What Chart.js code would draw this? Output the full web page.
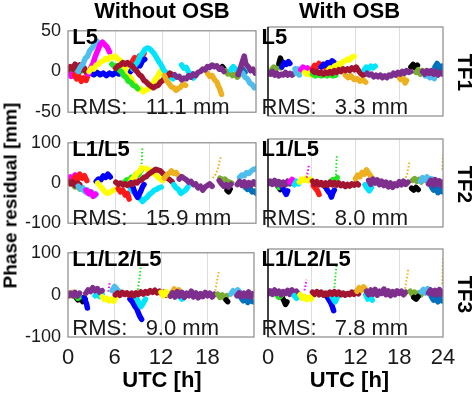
<!DOCTYPE html>
<html><head><meta charset="utf-8">
<script src="https://cdn.jsdelivr.net/npm/chart.js"></script>
<style>
html,body{margin:0;padding:0;background:#fff;}
#wrap{position:relative;width:474px;height:397px;overflow:hidden;font-family:"Liberation Sans",Arial,Helvetica,sans-serif;}
canvas{position:absolute;}
.t{position:absolute;white-space:pre;line-height:1;color:#000;}
</style></head>
<body><div id="wrap"></div>
<script>
// ---------- tick values / labels ----------
const xTickValues = [0, 6, 12, 18, 24];
const xTickLabelsLeft = ['0', '6', '12', '18', ''];
const xTickLabelsRight = ['0', '6', '12', '18', '24'];
const yTicksTF1 = [-50, 0, 50];
const yTicksTF23 = [-100, 0, 100];
const colTitles = ['Without OSB', 'With OSB'];
const rowTitles = ['TF1', 'TF2', 'TF3'];
const freqLabels = ['L5', 'L1/L5', 'L1/L2/L5'];
const rmsLeft = ['11.1', '15.9', '9.0'];
const rmsRight = ['3.3', '8.0', '7.8'];

// ---------- TF1, without OSB ([UTC h, residual mm]) ----------
const p1L_maroonA = [[0,2],[0.3,6],[0.6,3],[0.9,9],[1.2,5],[1.5,8],[1.8,2],[2.1,4],[2.3,-1]];
const p1L_magentaA = [[0.1,-2],[0.4,-6],[0.7,-3],[1.0,-7],[1.3,-4]];
const p1L_red = [[0.8,-4],[1.1,-9],[1.4,-6],[1.7,-12],[2.0,-8],[2.3,-11],[2.5,-6]];
const p1L_greenA = [[0.4,2],[0.7,6],[1.0,1],[1.3,5],[1.6,0]];
const p1L_lightblueA = [[1.3,0],[1.6,6],[1.9,9],[2.2,16],[2.5,19],[2.8,26],[3.1,29],[3.4,34],[3.7,37],[4.0,35]];
const p1L_magentaB = [[2.6,-3],[2.9,4],[3.2,10],[3.5,19],[3.8,26],[4.1,33],[4.4,36],[4.7,33],[5.0,30],[5.3,24]];
const p1L_blueB = [[2.9,-2],[3.3,-4],[3.7,-1],[4.1,-4],[4.5,-2],[4.9,-5],[5.3,-2],[5.7,-4],[6.1,-1],[6.5,-3]];
const p1L_yellow = [[2.7,0],[3.0,4],[3.3,3],[3.6,8],[3.9,9],[4.2,12],[4.5,13],[4.8,16],[5.1,15],[5.4,18],[5.7,17],[6.0,19],[6.3,16],[6.6,14],[6.9,10],[7.2,6],[7.5,1],[7.8,-5],[8.1,-9],[8.4,-15],[8.7,-18],[9.0,-22],[9.3,-21],[9.6,-25],[9.9,-23],[10.2,-22],[10.5,-18],[10.8,-16],[11.1,-10],[11.4,-7],[11.7,-1],[12.0,3]];
const p1L_greenB = [[5.6,9],[5.9,6],[6.2,7],[6.5,2],[6.8,0],[7.1,-5],[7.4,-7],[7.7,-12],[8.0,-13],[8.3,-17],[8.6,-18],[8.9,-21]];
const p1L_redB = [[8.2,12],[8.5,17],[8.8,14],[9.1,19],[9.4,18],[9.7,22]];
const p1L_blueC = [[8.0,0],[8.3,4],[8.6,3],[8.9,9],[9.2,7],[9.5,13],[9.8,15]];
const p1L_cyan = [[8.3,3],[8.6,8],[8.9,12],[9.2,19],[9.5,22],[9.8,27],[10.1,29],[10.4,28],[10.7,25],[11.0,22],[11.3,17],[11.6,12],[11.9,8],[12.2,2],[12.5,-1],[12.8,-5],[13.1,-7],[13.4,-9]];
const p1L_maroonB = [[6.1,4],[6.4,7],[6.7,8],[7.0,11],[7.3,9],[7.6,11],[7.9,8],[8.2,7],[8.5,3],[8.8,0],[9.1,-4],[9.4,-6],[9.7,-11],[10.0,-13],[10.3,-16],[10.6,-18],[10.9,-20],[11.2,-18],[11.5,-17],[11.8,-13],[12.1,-11],[12.4,-7],[12.7,-6],[13.0,-2],[13.3,-4]];
const p1L_orangeA = [[12.3,-5],[12.6,-11],[12.9,-15],[13.2,-19],[13.5,-20],[13.8,-23],[14.1,-21],[14.4,-19],[14.7,-15],[15.0,-17]];
const p1L_cyanB = [[14.5,8],[14.8,4],[15.1,5],[15.4,-1],[15.7,-4],[16.0,-8]];
const p1L_purpleA = [[13.6,-4],[13.9,-7],[14.2,-6],[14.5,-10],[14.8,-8],[15.1,-9],[15.4,-5],[15.7,-7],[16.0,-3],[16.3,-5],[16.6,-1],[16.9,0],[17.2,3],[17.5,2],[17.8,6],[18.1,5],[18.4,8],[18.7,6],[19.0,7],[19.3,3],[19.6,4],[19.9,0]];
const p1L_orangeB = [[17.8,-2],[18.1,-6],[18.4,-5],[18.7,-10],[19.0,-13],[19.2,-18],[19.4,-22],[19.6,-28]];
const p1L_black = [[19.4,3],[19.7,6],[20.0,2]];
const p1L_olive = [[20.1,1],[20.4,-3],[20.7,-1],[21.0,-5],[21.3,-3],[21.6,-7],[21.9,-4]];
const p1L_cyanC = [[20.8,2],[21.1,6],[21.4,3]];
const p1L_steel = [[22.0,-2],[22.3,3],[22.6,-1]];
const p1L_purpleB = [[21.7,-4],[22.0,4],[22.3,13],[22.5,19],[22.7,9],[23.0,6],[23.3,1],[23.6,3],[23.9,-2],[24.0,0]];
const p1L_lightblueB = [[22.3,-2],[22.6,-7],[22.9,-9],[23.2,-14],[23.5,-16],[23.8,-20],[24.0,-19]];

// ---------- TF1, with OSB ----------
const p1R_purpleA = [[0,-1],[0.3,-3],[0.6,0],[0.9,-4],[1.2,-2],[1.5,-5],[1.8,-3],[2.1,-4],[2.4,-1],[2.7,-4],[3.0,-2],[3.3,-4],[3.6,-2]];
const p1R_olive = [[0.5,2],[0.8,5],[1.1,3],[1.4,6],[1.7,4]];
const p1R_black = [[1.5,9],[1.7,15],[1.9,10]];
const p1R_blue = [[1.9,5],[2.2,10],[2.5,8],[2.8,11],[3.0,9]];
const p1R_lightblueA = [[3.7,3],[3.9,-2],[4.1,3],[4.3,-4]];
const p1R_magenta = [[4.5,2],[4.8,5],[5.1,1],[5.4,4]];
const p1R_yellowA = [[5.0,-1],[5.3,-3],[5.6,-2],[5.9,-4],[6.1,-3]];
const p1R_green = [[6.1,-3],[6.5,-5],[6.9,-3],[7.3,-5],[7.7,-3],[8.1,-5],[8.5,-3],[8.9,-5],[9.3,-4]];
const p1R_red = [[6.1,3],[6.4,7],[6.7,5],[7.0,9],[7.3,6],[7.6,8],[7.9,4]];
const p1R_blueB = [[7.3,5],[7.6,8],[7.9,7],[8.2,10],[8.5,9],[8.8,12],[9.1,10]];
const p1R_yellowB = [[8.2,1],[8.5,4],[8.8,3],[9.1,6],[9.4,7],[9.7,9],[10.0,8],[10.3,11],[10.6,12],[10.9,14],[11.2,13],[11.5,16],[11.8,17]];
const p1R_orangeA = [[10.6,-4],[11.0,-7],[11.4,-5],[11.8,-9],[12.2,-8],[12.6,-11],[13.0,-9],[13.4,-12]];
const p1R_maroon = [[6.1,1],[6.4,-1],[6.7,0],[7.0,-2],[7.3,-1],[7.6,-3],[7.9,-1],[8.2,-2],[8.5,0],[8.8,-2],[9.1,1],[9.4,-1],[9.7,2],[10.0,0],[10.3,3],[10.6,1],[10.9,3],[11.2,1],[11.5,4],[11.8,2],[12.1,5],[12.4,1],[12.7,-2],[13.0,-4],[13.3,-3]];
const p1R_cyan = [[13.2,2],[13.5,5],[13.8,3],[14.1,6],[14.4,4],[14.7,6]];
const p1R_purpleB = [[13.6,-2],[13.9,-4],[14.2,-3],[14.5,-6],[14.8,-4],[15.1,-6],[15.4,-4],[15.7,-7],[16.0,-5],[16.3,-7],[16.6,-4],[16.9,-5],[17.2,-2],[17.5,-4],[17.8,-1],[18.1,-3],[18.4,0],[18.7,-2],[19.0,1],[19.3,-1],[19.6,0]];
const p1R_orangeB = [[17.9,-5],[18.2,-9],[18.5,-7],[18.8,-13],[19.0,-10]];
const p1R_blackB = [[19.6,5],[19.9,8],[20.2,4],[20.5,7]];
const p1R_oliveB = [[20.3,-1],[20.6,2],[20.9,-3],[21.2,1]];
const p1R_lightblueB = [[21.3,-1],[21.6,-5],[21.9,-2],[22.2,-7],[22.5,-4],[22.8,-8]];
const p1R_purpleC = [[21.2,0],[21.5,-3],[21.8,1],[22.1,-2],[22.4,1],[22.7,-3],[23.0,0],[23.3,-4],[23.6,-1],[23.9,-3],[24.0,-2]];
const p1R_steel = [[22.9,5],[23.2,9],[23.5,3],[23.8,6],[24.0,1]];

// ---------- TF2, without OSB ----------
const p2L_magentaA = [[0,8],[0.3,15],[0.6,10],[0.9,20],[1.2,14]];
const p2L_red = [[0.6,5],[0.9,15],[1.2,8],[1.5,22],[1.8,12],[2.1,18],[2.4,6]];
const p2L_maroonA = [[0,4],[0.3,-2],[0.6,3],[0.9,-6],[1.2,0],[1.5,-4]];
const p2L_olive = [[0.6,-3],[0.9,-10],[1.2,-6],[1.5,-15],[1.8,-12],[2.0,-18]];
const p2L_lightblueA = [[1.3,-8],[1.6,-15],[1.9,-12],[2.2,-22],[2.5,-18],[2.8,-28],[3.1,-24],[3.4,-32],[3.6,-28]];
const p2L_magentaB = [[2.3,-18],[2.6,-26],[2.9,-22],[3.2,-33],[3.5,-28]];
const p2L_blueA = [[3.6,4],[3.9,10],[4.2,8],[4.5,18],[4.8,14],[5.1,22],[5.4,15]];
const p2L_yellowA = [[3.8,0],[4.1,-8],[4.4,-14],[4.7,-22],[5.0,-26],[5.3,-24],[5.6,-20],[5.9,-17],[6.2,-15]];
const p2L_redB = [[6.4,-14],[6.7,-22],[7.0,-18],[7.3,-30],[7.6,-26],[7.8,-40]];
const p2L_greenA = [[7.2,2],[7.5,8],[7.8,5],[8.1,14],[8.4,12],[8.7,22],[9.0,20],[9.3,30]];
const p2L_greenSpike = [[9.3,30],[9.4,50],[9.45,70],[9.5,90]];
const p2L_blueB = [[8.0,0],[8.3,-10],[8.5,-22],[8.7,-30],[8.9,-36],[9.1,-28],[9.3,-20],[9.5,-10],[9.7,-4]];
const p2L_yellowB = [[8.0,4],[8.3,12],[8.6,18],[8.9,26],[9.2,30],[9.4,38]];
const p2L_cyan = [[8.0,-15],[8.3,-22],[8.6,-26],[8.9,-33],[9.2,-38],[9.5,-46],[9.8,-40],[10.1,-36],[10.4,-28],[10.7,-24],[11.0,-18],[11.3,-16],[11.6,-12],[11.9,-10]];
const p2L_yellowC = [[10.0,36],[10.3,30],[10.6,32],[10.9,24],[11.2,20],[11.5,14],[11.8,10],[12.1,6]];
const p2L_maroonB = [[6.1,2],[6.4,-3],[6.7,0],[7.0,-5],[7.3,-2],[7.6,-6],[7.9,-1],[8.2,-4],[8.5,2],[8.8,0],[9.1,6],[9.4,8],[9.7,14],[10.0,16],[10.3,22],[10.6,26],[10.9,30],[11.2,34],[11.5,32],[11.8,30],[12.1,24],[12.4,18],[12.7,12],[13.0,8],[13.3,3]];
const p2L_orangeA = [[12.3,12],[12.6,20],[12.9,24],[13.2,30],[13.5,24],[13.8,26],[14.1,18],[14.4,14]];
const p2L_cyanB = [[13.5,-4],[13.8,-12],[14.1,-16],[14.4,-26],[14.7,-22],[15.0,-18],[15.3,-10]];
const p2L_purpleA = [[14.2,10],[14.5,16],[14.8,12],[15.1,8],[15.4,2],[15.7,4],[16.0,-4],[16.3,-2],[16.6,-12],[16.9,-8],[17.2,-18],[17.5,-10],[17.8,-6],[18.1,-2],[18.4,-8]];
const p2L_orangeB = [[18.5,12],[18.8,20],[19.0,28],[19.2,40],[19.35,55],[19.5,64]];
const p2L_purpleB = [[19.3,6],[19.6,-2],[19.9,-8],[20.2,-4],[20.5,-10],[20.8,-3]];
const p2L_olive2 = [[19.4,12],[19.7,8],[20.0,10],[20.3,4],[20.6,2],[20.9,0]];
const p2L_black = [[20.3,-18],[20.5,-22],[20.7,-15]];
const p2L_lightblueB = [[21.9,14],[22.2,20],[22.5,18],[22.8,26],[23.1,24],[23.4,30],[23.7,34],[24.0,36]];
const p2L_steel = [[22.6,-10],[22.9,-16],[23.2,-12],[23.5,-22],[23.8,-20],[24.0,-25]];
const p2L_purpleC = [[21.6,-4],[21.9,4],[22.2,-6],[22.5,3],[22.8,-9],[23.1,1],[23.4,-5],[23.7,3],[24.0,-4]];

// ---------- TF2, with OSB ----------
const p2R_purpleA = [[0,-2],[0.3,4],[0.6,-3],[0.9,6],[1.2,-4],[1.5,3],[1.8,-5],[2.1,2],[2.4,-4],[2.7,4],[3.0,-2],[3.3,3]];
const p2R_black = [[1.4,-8],[1.7,-15],[2.0,-10]];
const p2R_green = [[1.2,-4],[1.5,-10],[1.8,-6]];
const p2R_blueA = [[1.9,-6],[2.1,-14],[2.3,-20],[2.5,-26],[2.7,-18]];
const p2R_magentaA = [[3.0,2],[3.3,8],[3.6,4]];
const p2R_cyanA = [[3.6,-4],[3.9,4],[4.2,-2]];
const p2R_yellow = [[4.3,2],[4.6,9],[4.9,6],[5.2,11],[5.5,5],[5.8,9],[6.1,3]];
const p2R_magentaSpike = [[5.3,12],[5.45,25],[5.6,40]];
const p2R_red = [[6.2,-6],[6.5,-12],[6.8,-18],[7.0,-26]];
const p2R_blueB = [[7.9,-10],[8.2,-18],[8.5,-24],[8.7,-32],[8.9,-22],[9.1,-16]];
const p2R_greenB = [[8.6,2],[8.9,8],[9.2,6],[9.5,12]];
const p2R_greenSpike = [[9.3,10],[9.35,30],[9.4,48],[9.45,65]];
const p2R_maroon = [[6.1,4],[6.4,-3],[6.7,3],[7.0,-4],[7.3,1],[7.6,-6],[7.9,0],[8.2,-5],[8.5,2],[8.8,-4],[9.1,1],[9.4,-5],[9.7,0],[10.0,-6],[10.3,-2],[10.6,-8],[10.9,-3],[11.2,-7],[11.5,-2],[11.8,-5],[12.1,0],[12.4,-4]];
const p2R_orange = [[12.0,10],[12.3,18],[12.6,14],[12.9,24],[13.2,20],[13.5,30],[13.8,22],[14.1,16]];
const p2R_cyanB = [[13.3,-4],[13.6,-12],[13.9,-18],[14.2,-10]];
const p2R_purpleB = [[13.8,6],[14.1,-3],[14.4,9],[14.7,0],[15.0,7],[15.3,-4],[15.6,4],[15.9,-6],[16.2,2],[16.5,-9],[16.8,0],[17.1,-10],[17.4,-2],[17.7,-6],[18.0,3],[18.3,-4],[18.6,4],[18.9,-3],[19.2,2]];
const p2R_orangeB = [[18.9,12],[19.1,22],[19.25,35],[19.4,48]];
const p2R_blackB = [[19.7,-12],[20.0,-16],[20.3,-10],[20.6,-15]];
const p2R_olive = [[19.8,6],[20.1,10],[20.4,4],[20.7,8],[21.0,2]];
const p2R_lightblueB = [[20.9,4],[21.2,12],[21.5,6],[21.8,14],[22.1,2],[22.4,10]];
const p2R_steel = [[22.4,-8],[22.7,-16],[23.0,-10],[23.3,-22],[23.6,-14],[23.9,-20]];
const p2R_purpleC = [[22.0,-2],[22.3,6],[22.6,-5],[22.9,8],[23.2,-3],[23.5,5],[23.8,-6],[24.0,2]];
const p2R_orangeEdge = [[23.9,30],[24.0,65]];

// ---------- TF3, without OSB ----------
const p3L_orange0 = [[0,4],[0.3,-2],[0.6,6]];
const p3L_purpleA = [[0,-3],[0.3,4],[0.6,-2],[0.9,6],[1.2,-3],[1.5,4]];
const p3L_black = [[1.0,-5],[1.3,-12],[1.6,-9],[1.9,-16],[2.2,-10]];
const p3L_green = [[1.0,-2],[1.3,-8],[1.6,-4]];
const p3L_blueA = [[2.1,-6],[2.25,-14],[2.4,-22],[2.5,-31]];
const p3L_purpleB = [[2.3,4],[2.6,12],[2.9,8],[3.2,17],[3.5,10],[3.8,15],[4.1,6],[4.4,10]];
const p3L_cyanA = [[3.5,-2],[3.8,4],[4.1,-4],[4.4,2]];
const p3L_yellow = [[4.4,-4],[4.7,-11],[5.0,-8],[5.3,-14],[5.6,-10],[5.9,-15],[6.1,-8]];
const p3L_magentaSpike = [[5.2,8],[5.3,20],[5.4,32]];
const p3L_lightblue = [[5.7,10],[6.0,20],[6.3,14],[6.6,8]];
const p3L_maroon = [[6.1,0],[6.4,5],[6.7,-1],[7.0,6],[7.3,1],[7.6,5],[7.9,-1],[8.2,4],[8.5,-2],[8.8,5],[9.1,1],[9.4,7],[9.7,2],[10.0,8],[10.3,4],[10.6,10],[10.9,6],[11.2,11],[11.5,5],[11.8,9],[12.1,3],[12.4,7],[12.7,-1]];
const p3L_blueB = [[8.0,-10],[8.3,-16],[8.6,-26],[8.9,-34],[9.1,-44],[9.3,-52],[9.5,-58]];
const p3L_cyanB = [[8.8,-6],[9.1,-18],[9.4,-28],[9.7,-20],[10.0,-10]];
const p3L_greenSpike = [[9.0,12],[9.15,30],[9.3,50],[9.4,72]];
const p3L_yellowB = [[12.0,6],[12.3,-2],[12.6,8],[12.9,0],[13.2,4]];
const p3L_orange = [[13.4,6],[13.7,14],[14.0,8],[14.3,12]];
const p3L_purpleC = [[13.2,-3],[13.5,5],[13.8,-5],[14.1,8],[14.4,-3],[14.7,6],[15.0,-6],[15.3,4],[15.6,-2],[15.9,9],[16.2,-5],[16.5,5],[16.8,-7],[17.1,3],[17.4,-4],[17.7,6],[18.0,-2],[18.3,4],[18.6,-5],[18.9,2]];
const p3L_cyanC = [[14.4,-4],[14.7,-10],[15.0,-6]];
const p3L_orangeSpike = [[19.0,10],[19.15,25],[19.3,40],[19.45,55]];
const p3L_olive = [[19.3,2],[19.6,-6],[19.9,0],[20.2,-8],[20.5,-2]];
const p3L_black2 = [[20.4,-12],[20.6,-16]];
const p3L_lightblueB = [[21.0,2],[21.3,10],[21.6,4],[21.9,12],[22.2,6]];
const p3L_steel = [[22.3,-6],[22.6,-14],[22.9,-8],[23.2,-18],[23.5,-12],[23.8,-16]];
const p3L_purpleD = [[21.8,-2],[22.1,5],[22.4,-4],[22.7,4],[23.0,-3],[23.3,7],[23.6,-5],[23.9,3],[24.0,-1]];

// ---------- TF3, with OSB ----------
const p3R_purpleA = [[0,-2],[0.3,5],[0.6,-3],[0.9,7],[1.2,-1],[1.5,4],[1.8,-4],[2.1,3],[2.4,-1],[2.7,6],[3.0,-3],[3.3,7],[3.6,-1],[3.9,4],[4.2,-3]];
const p3R_black = [[1.8,-5],[2.0,-12],[2.2,-18],[2.4,-26],[2.6,-20]];
const p3R_green = [[1.2,-4],[1.5,-10],[1.8,-6]];
const p3R_cyanA = [[3.6,-6],[3.9,-12],[4.2,-8]];
const p3R_yellow = [[4.4,-4],[4.7,-12],[5.0,-8],[5.3,-15],[5.6,-10],[5.9,-14],[6.1,-6]];
const p3R_magentaSpike = [[5.0,6],[5.15,18],[5.3,30]];
const p3R_maroon = [[6.1,2],[6.4,-3],[6.7,3],[7.0,-4],[7.3,2],[7.6,-5],[7.9,0],[8.2,-4],[8.5,2],[8.8,-3],[9.1,3],[9.4,-3],[9.7,2],[10.0,-4],[10.3,0],[10.6,-5],[10.9,-1],[11.2,-4],[11.5,2],[11.8,-3],[12.1,3],[12.4,-2]];
const p3R_blueB = [[8.0,-6],[8.3,-14],[8.6,-22],[8.8,-30],[9.0,-40]];
const p3R_cyanB = [[8.6,-4],[8.9,-12],[9.2,-20],[9.5,-10]];
const p3R_greenSpike = [[9.1,12],[9.2,30],[9.3,48],[9.4,64]];
const p3R_orange = [[12.2,4],[12.5,12],[12.8,6],[13.1,14],[13.4,8]];
const p3R_cyanC = [[13.4,-4],[13.7,-14],[14.0,-8],[14.3,-16]];
const p3R_purpleB = [[13.5,4],[13.8,-4],[14.1,7],[14.4,-3],[14.7,8],[15.0,-5],[15.3,4],[15.6,-1],[15.9,9],[16.2,-4],[16.5,5],[16.8,-6],[17.1,3],[17.4,-4],[17.7,5],[18.0,-1],[18.3,4],[18.6,-4],[18.9,2]];
const p3R_orangeSpike = [[18.8,10],[18.95,25],[19.1,40],[19.25,55]];
const p3R_olive = [[19.5,4],[19.8,-4],[20.1,2],[20.4,-6],[20.7,0],[21.0,-4]];
const p3R_black2 = [[20.0,-10],[20.3,-14],[20.6,-8]];
const p3R_lightblue = [[21.0,2],[21.3,8],[21.6,0],[21.9,10],[22.2,4]];
const p3R_steel = [[22.4,-8],[22.7,-16],[23.0,-10],[23.3,-20],[23.6,-12],[23.9,-18]];
const p3R_purpleC = [[22.0,0],[22.3,7],[22.6,-3],[22.9,6],[23.2,-4],[23.5,8],[23.8,-3],[24.0,3]];
const p3R_orangeEdge = [[23.9,20],[24.0,80]];

// ---------- styling ----------
const FONT = '"Liberation Sans", Arial, Helvetica, sans-serif';
Chart.defaults.font.family = FONT;
const C = {
  red:'#ff1a1a', magenta:'#ff00ff', lightblue:'#4dbeee', blue:'#0000ff', yellow:'#ffff00',
  green:'#22e622', cyan:'#00e5ff', maroon:'#a2142f', orange:'#edb120', purple:'#7e2f8e',
  olive:'#77ac30', black:'#000000', steel:'#0072bd'
};

const panelDefs = [
  {area:[68,27,256,116], yTicks:yTicksTF1, left:true, bottom:false, series:[
    [p1L_greenA,'green'],[p1L_magentaA,'magenta'],[p1L_red,'red'],[p1L_maroonA,'maroon'],
    [p1L_lightblueA,'lightblue'],[p1L_blueB,'blue'],[p1L_magentaB,'magenta'],[p1L_yellow,'yellow'],
    [p1L_greenB,'green'],[p1L_redB,'red'],[p1L_blueC,'blue'],[p1L_cyan,'cyan'],[p1L_maroonB,'maroon'],
    [p1L_orangeA,'orange'],[p1L_cyanB,'cyan'],[p1L_orangeB,'orange'],[p1L_black,'black'],
    [p1L_olive,'olive'],[p1L_cyanC,'cyan'],[p1L_purpleA,'purple'],[p1L_steel,'steel'],
    [p1L_lightblueB,'lightblue'],[p1L_purpleB,'purple']]},
  {area:[256,27,443,116], yTicks:yTicksTF1, left:false, bottom:false, series:[
    [p1R_olive,'olive'],[p1R_black,'black'],[p1R_blue,'blue'],[p1R_purpleA,'purple'],
    [p1R_lightblueA,'lightblue'],[p1R_magenta,'magenta'],[p1R_yellowA,'yellow'],[p1R_green,'green'],
    [p1R_red,'red'],[p1R_blueB,'blue'],[p1R_yellowB,'yellow'],[p1R_orangeA,'orange'],[p1R_maroon,'maroon'],
    [p1R_cyan,'cyan'],[p1R_orangeB,'orange'],[p1R_blackB,'black'],[p1R_oliveB,'olive'],
    [p1R_purpleB,'purple'],[p1R_lightblueB,'lightblue'],[p1R_steel,'steel'],[p1R_purpleC,'purple']]},
  {area:[68,139,256,227], yTicks:yTicksTF23, left:true, bottom:false, series:[
    [p2L_magentaA,'magenta'],[p2L_red,'red'],[p2L_olive,'olive'],[p2L_maroonA,'maroon'],
    [p2L_lightblueA,'lightblue'],[p2L_magentaB,'magenta'],[p2L_blueA,'blue'],[p2L_yellowA,'yellow'],
    [p2L_redB,'red'],[p2L_greenA,'green'],[p2L_greenSpike,'green','dot'],[p2L_yellowB,'yellow'],
    [p2L_cyan,'cyan'],[p2L_blueB,'blue'],[p2L_yellowC,'yellow'],[p2L_maroonB,'maroon'],
    [p2L_orangeA,'orange'],[p2L_cyanB,'cyan'],[p2L_purpleA,'purple'],[p2L_orangeB,'orange','dot'],
    [p2L_olive2,'olive'],[p2L_black,'black'],[p2L_purpleB,'purple'],[p2L_lightblueB,'lightblue'],
    [p2L_steel,'steel'],[p2L_purpleC,'purple']]},
  {area:[256,139,443,227], yTicks:yTicksTF23, left:false, bottom:false, series:[
    [p2R_black,'black'],[p2R_green,'green'],[p2R_blueA,'blue'],[p2R_purpleA,'purple'],
    [p2R_magentaA,'magenta'],[p2R_cyanA,'cyan'],[p2R_yellow,'yellow'],[p2R_magentaSpike,'magenta','dot'],
    [p2R_red,'red'],[p2R_blueB,'blue'],[p2R_greenB,'green'],[p2R_greenSpike,'green','dot'],
    [p2R_maroon,'maroon'],[p2R_orange,'orange'],[p2R_cyanB,'cyan'],[p2R_orangeB,'orange','dot'],
    [p2R_blackB,'black'],[p2R_olive,'olive'],[p2R_purpleB,'purple'],[p2R_lightblueB,'lightblue'],
    [p2R_steel,'steel'],[p2R_purpleC,'purple'],[p2R_orangeEdge,'orange','dot']]},
  {area:[68,249,256,337], yTicks:yTicksTF23, left:true, bottom:true, series:[
    [p3L_orange0,'orange'],[p3L_black,'black'],[p3L_green,'green'],[p3L_blueA,'blue'],
    [p3L_purpleA,'purple'],[p3L_cyanA,'cyan'],[p3L_purpleB,'purple'],[p3L_yellow,'yellow'],
    [p3L_magentaSpike,'magenta','dot'],[p3L_lightblue,'lightblue'],[p3L_blueB,'blue'],[p3L_cyanB,'cyan'],
    [p3L_greenSpike,'green','dot'],[p3L_maroon,'maroon'],[p3L_yellowB,'yellow'],[p3L_orange,'orange'],
    [p3L_cyanC,'cyan'],[p3L_purpleC,'purple'],[p3L_orangeSpike,'orange','dot'],[p3L_olive,'olive'],
    [p3L_black2,'black'],[p3L_lightblueB,'lightblue'],[p3L_steel,'steel'],[p3L_purpleD,'purple']]},
  {area:[256,249,443,337], yTicks:yTicksTF23, left:false, bottom:true, series:[
    [p3R_black,'black'],[p3R_green,'green'],[p3R_purpleA,'purple'],[p3R_cyanA,'cyan'],
    [p3R_yellow,'yellow'],[p3R_magentaSpike,'magenta','dot'],[p3R_blueB,'blue'],[p3R_cyanB,'cyan'],
    [p3R_greenSpike,'green','dot'],[p3R_maroon,'maroon'],[p3R_orange,'orange'],[p3R_cyanC,'cyan'],
    [p3R_purpleB,'purple'],[p3R_orangeSpike,'orange','dot'],[p3R_olive,'olive'],[p3R_black2,'black'],
    [p3R_lightblue,'lightblue'],[p3R_steel,'steel'],[p3R_purpleC,'purple'],[p3R_orangeEdge,'orange','dot']]}
];

const boxPlugin = {
  id: 'box',
  afterDatasetsDraw(chart, args, opts) {
    const {ctx, chartArea: a} = chart;
    ctx.save();
    ctx.strokeStyle = '#8a8a8a';
    ctx.lineWidth = 1.2;
    ctx.strokeRect(a.left, a.top, a.right - a.left, a.bottom - a.top);
    if (opts.darkLeft) {
      ctx.strokeStyle = '#111';
      ctx.lineWidth = 1.4;
      ctx.beginPath(); ctx.moveTo(a.left, a.top); ctx.lineTo(a.left, a.bottom); ctx.stroke();
    }
    ctx.restore();
  }
};

const wrap = document.getElementById('wrap');

function buildPanel(def) {
  const [l, t, r, b] = def.area;
  const padL = def.left ? l : 12;
  const padR = def.left ? 6 : 24;
  const padT = 14;
  const padB = def.bottom ? 46 : 14;
  const W = (r - l) + padL + padR, H = (b - t) + padT + padB;
  const cv = document.createElement('canvas');
  cv.width = W; cv.height = H;
  cv.style.left = (l - padL) + 'px';
  cv.style.top = (t - padT) + 'px';
  cv.style.width = W + 'px';
  cv.style.height = H + 'px';
  wrap.appendChild(cv);
  const xLabels = def.left ? xTickLabelsLeft : xTickLabelsRight;
  const yMax = def.yTicks[def.yTicks.length - 1];
  const datasets = def.series.slice().reverse().map(([pts, col, kind]) => ({
    data: pts,
    borderColor: C[col],
    backgroundColor: C[col],
    borderWidth: kind === 'dot' ? 2 : 5.5,
    borderDash: kind === 'dot' ? [1.5, 2] : [],
    borderJoinStyle: 'round',
    borderCapStyle: kind === 'dot' ? 'butt' : 'round',
    pointRadius: 0,
    tension: 0,
    clip: 0
  }));
  new Chart(cv, {
    type: 'line',
    data: { datasets },
    options: {
      responsive: false, animation: false, devicePixelRatio: 1,
      layout: { padding: { left: def.left ? 0 : padL, right: padR, top: padT, bottom: 0 } },
      plugins: { legend: { display: false }, tooltip: { enabled: false }, box: { darkLeft: !def.left } },
      scales: {
        x: {
          type: 'linear', min: 0, max: 24,
          afterBuildTicks: s => { s.ticks = xTickValues.map(v => ({ value: v })); },
          afterFit: s => { s.height = padB; },
          grid: { drawTicks: false, lineWidth: 1,
                  color: c => (c.tick && c.tick.value > 0 && c.tick.value < 24) ? '#dedede' : 'rgba(0,0,0,0)' },
          border: { display: false },
          ticks: { display: def.bottom, autoSkip: false, maxRotation: 0, padding: 8,
                   color: '#1a1a1a', font: { size: 22, family: FONT },
                   callback: v => xLabels[xTickValues.indexOf(v)] }
        },
        y: {
          type: 'linear', min: -yMax, max: yMax, display: def.left,
          afterBuildTicks: s => { s.ticks = def.yTicks.map(v => ({ value: v })); },
          afterFit: s => { s.width = padL; },
          grid: { display: false, drawTicks: false },
          border: { display: false },
          ticks: { padding: 7, color: '#1a1a1a', font: { size: 18, family: FONT },
                   callback: v => String(v) }
        }
      }
    },
    plugins: [boxPlugin]
  });
}
panelDefs.forEach(buildPanel);

// ---------- text ----------
function addText(txt, css) {
  const d = document.createElement('div');
  d.className = 't';
  d.textContent = txt;
  Object.assign(d.style, css);
  wrap.appendChild(d);
  return d;
}
const colCenters = [162, 349.5];
colCenters.forEach((cx, i) => {
  addText(colTitles[i], {left:(cx-110)+'px', top:'0px', width:'220px', textAlign:'center', fontSize:'22px', fontWeight:'bold', height:'22px'});
  addText('UTC [h]', {left:(cx-110)+'px', top:'369px', width:'220px', textAlign:'center', fontSize:'22px', fontWeight:'bold', height:'22px'});
});
const rowTops = [27, 139, 249], rowBottoms = [116, 227, 337];
rowTitles.forEach((rt, i) => {
  const cy = (rowTops[i] + rowBottoms[i]) / 2 + 1;
  addText(rt, {left:(465.2-40)+'px', top:(cy-10.5)+'px', width:'80px', height:'21px', textAlign:'center',
               fontSize:'21px', fontWeight:'bold', transform:'rotate(90deg)'});
  [72.3, 261.5].forEach((lx, j) => {
    addText(freqLabels[i], {left:lx+'px', top:(rowTops[i] + 18 - 18.6)+'px', fontSize:'22px', fontWeight:'bold'});
    const val = j === 0 ? rmsLeft[i] : rmsRight[i];
    addText('RMS:   ' + val + ' mm', {left:lx+'px', top:(rowBottoms[i] - 1 - 18.6)+'px', fontSize:'22px', color:'#1a1a1a'});
  });
});
addText('Phase residual [mm]', {left:(9.5-130)+'px', top:(195-9.5)+'px', width:'260px', height:'19px', textAlign:'center',
  fontSize:'19px', fontWeight:'bold', transform:'rotate(-90deg)'});
</script>
</body></html>
